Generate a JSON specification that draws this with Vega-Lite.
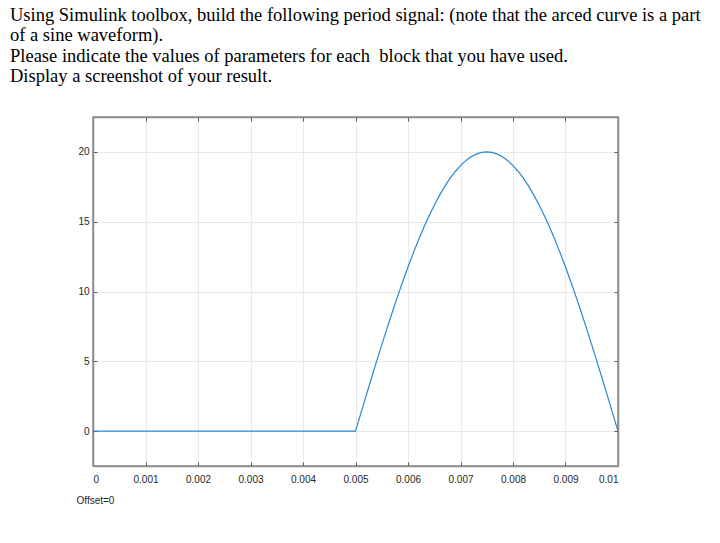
{
  "$schema": "https://vega.github.io/schema/vega-lite/v6.json",
  "width": 525,
  "height": 349,
  "autosize": "none",
  "padding": {"left": 93, "top": 117, "right": 102, "bottom": 77},
  "background": "white",
  "view": {"stroke": "#8c8c8c", "strokeWidth": 1.5},
  "title": {
    "text": [
      "Using Simulink toolbox, build the following period signal: (note that the arced curve is a part",
      "of a sine waveform).",
      "Please indicate the values of parameters for each\u00a0 block that you have used.",
      "Display a screenshot of your result."
    ],
    "anchor": "start",
    "frame": "group",
    "font": "Liberation Serif",
    "fontSize": 18.5,
    "fontWeight": "normal",
    "color": "black",
    "lineHeight": 20.3,
    "dx": -83,
    "offset": 31
  },
  "data": {
    "values": [
      {"t": 0, "v": 0},
      {"t": 0.005, "v": 0},
      {"t": 0.0051, "v": 1.256},
      {"t": 0.0052, "v": 2.507},
      {"t": 0.0053, "v": 3.748},
      {"t": 0.0054, "v": 4.974},
      {"t": 0.0055, "v": 6.18},
      {"t": 0.0056, "v": 7.362},
      {"t": 0.0057, "v": 8.516},
      {"t": 0.0058, "v": 9.635},
      {"t": 0.0059, "v": 10.717},
      {"t": 0.006, "v": 11.756},
      {"t": 0.0061, "v": 12.748},
      {"t": 0.0062, "v": 13.691},
      {"t": 0.0063, "v": 14.579},
      {"t": 0.0064, "v": 15.41},
      {"t": 0.0065, "v": 16.18},
      {"t": 0.0066, "v": 16.887},
      {"t": 0.0067, "v": 17.526},
      {"t": 0.0068, "v": 18.097},
      {"t": 0.0069, "v": 18.596},
      {"t": 0.007, "v": 19.021},
      {"t": 0.0071, "v": 19.372},
      {"t": 0.0072, "v": 19.646},
      {"t": 0.0073, "v": 19.842},
      {"t": 0.0074, "v": 19.961},
      {"t": 0.0075, "v": 20},
      {"t": 0.0076, "v": 19.961},
      {"t": 0.0077, "v": 19.842},
      {"t": 0.0078, "v": 19.646},
      {"t": 0.0079, "v": 19.372},
      {"t": 0.008, "v": 19.021},
      {"t": 0.0081, "v": 18.596},
      {"t": 0.0082, "v": 18.097},
      {"t": 0.0083, "v": 17.526},
      {"t": 0.0084, "v": 16.887},
      {"t": 0.0085, "v": 16.18},
      {"t": 0.0086, "v": 15.41},
      {"t": 0.0087, "v": 14.579},
      {"t": 0.0088, "v": 13.691},
      {"t": 0.0089, "v": 12.748},
      {"t": 0.009, "v": 11.756},
      {"t": 0.0091, "v": 10.717},
      {"t": 0.0092, "v": 9.635},
      {"t": 0.0093, "v": 8.516},
      {"t": 0.0094, "v": 7.362},
      {"t": 0.0095, "v": 6.18},
      {"t": 0.0096, "v": 4.974},
      {"t": 0.0097, "v": 3.748},
      {"t": 0.0098, "v": 2.507},
      {"t": 0.0099, "v": 1.256},
      {"t": 0.01, "v": 0}
    ]
  },
  "config": {
    "axis": {
      "labelFont": "Liberation Sans",
      "labelFontSize": 10,
      "labelColor": "#262626",
      "domainColor": "#8c8c8c",
      "domainWidth": 1.5,
      "tickColor": "#595959",
      "tickWidth": 1,
      "gridColor": "#e8e8e8",
      "gridWidth": 1
    }
  },
  "layer": [
    {
      "mark": {"type": "line", "color": "#2a88d0", "strokeWidth": 1.2, "interpolate": "linear"},
      "encoding": {
        "x": {
          "field": "t",
          "type": "quantitative",
          "scale": {"domain": [0, 0.01], "nice": false, "zero": false},
          "axis": {
            "orient": "bottom",
            "values": [0, 0.001, 0.002, 0.003, 0.004, 0.005, 0.006, 0.007, 0.008, 0.009, 0.01],
            "format": "~g",
            "grid": true,
            "tickSize": -4,
            "labelPadding": 12,
            "title": "Offset=0",
            "titleFont": "Liberation Sans",
            "titleFontSize": 10,
            "titleFontWeight": "normal",
            "titleColor": "#262626",
            "titleAnchor": "start",
            "titleAlign": "left",
            "titleX": -17,
            "titleY": 29
          }
        },
        "y": {
          "field": "v",
          "type": "quantitative",
          "scale": {"domain": [-2.5, 22.5], "nice": false, "zero": false},
          "axis": {
            "orient": "left",
            "values": [0, 5, 10, 15, 20],
            "grid": true,
            "tickSize": -4,
            "labelPadding": 8,
            "title": null
          }
        }
      }
    },
    {
      "mark": {"type": "line", "opacity": 0},
      "encoding": {
        "x": {
          "field": "t",
          "type": "quantitative",
          "axis": {
            "orient": "top",
            "values": [0, 0.001, 0.002, 0.003, 0.004, 0.005, 0.006, 0.007, 0.008, 0.009, 0.01],
            "labels": false,
            "grid": false,
            "tickSize": -4,
            "title": null
          }
        },
        "y": {
          "field": "v",
          "type": "quantitative",
          "axis": {
            "orient": "right",
            "values": [0, 5, 10, 15, 20],
            "labels": false,
            "grid": false,
            "tickSize": -4,
            "title": null
          }
        }
      }
    }
  ],
  "resolve": {"axis": {"x": "independent", "y": "independent"}}
}
